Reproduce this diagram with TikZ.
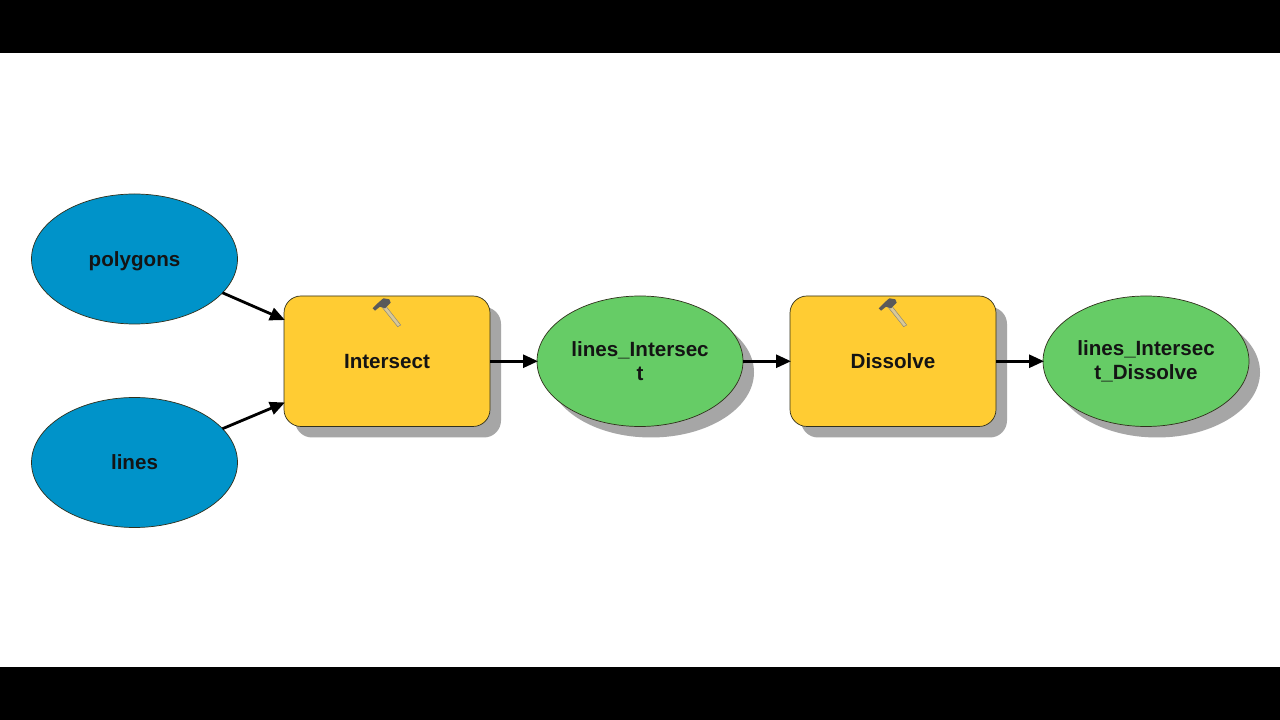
\documentclass[tikz,border=0pt]{standalone}
\usepackage{fontspec}
\setmainfont{Liberation Sans}
\usetikzlibrary{arrows.meta,shapes.geometric,shadows}
\definecolor{blueN}{HTML}{0093C9}
\definecolor{greenN}{HTML}{66CC66}
\definecolor{yellowN}{HTML}{FFCC33}
\definecolor{shadowN}{HTML}{A6A6A6}
\definecolor{edgeN}{HTML}{30301C}
\definecolor{handleN}{HTML}{D8C89A}
\definecolor{handleE}{HTML}{8E8A78}
\definecolor{headN}{HTML}{5A5A5A}
\tikzset{
  x=1pt,y=1pt,
  base/.style={draw=edgeN,line width=0.7pt,outer sep=0pt,inner sep=0pt,align=center,
    font=\fontsize{20.6}{24}\selectfont\bfseries,text=black!92},
  inputell/.style={base,ellipse,fill=blueN,minimum width=206pt,minimum height=130pt},
  outputell/.style={base,ellipse,fill=greenN,minimum width=206pt,minimum height=130.5pt,
    drop shadow={shadow xshift=11pt,shadow yshift=-11pt,fill=shadowN,opacity=1}},
  toolbox/.style={base,rectangle,rounded corners=17pt,fill=yellowN,minimum width=206pt,minimum height=130.5pt,
    drop shadow={shadow xshift=11pt,shadow yshift=-11pt,fill=shadowN,opacity=1}},
  conn/.style={line width=2.8pt,black,-{Triangle[length=15pt,width=13pt]},shorten >=-1pt},
  hammer/.pic={
    \filldraw[draw=handleE,line width=0.5pt,fill=handleN] (-4.3,-7.7) -- (-1,-6) -- (14.7,-26) -- (11.7,-27.7) -- cycle;
    \fill[headN] (-13.3,-9.3) -- (-11,-11.7) -- (-6,-7.7) -- (-1,-9.3) -- (4.7,-3.7) -- (3.3,-0.3) -- (-2.7,0.7) -- (-7.7,-3.7) -- cycle;
  }
}
\begin{document}
\begin{tikzpicture}
\useasboundingbox (0,0) rectangle (1280,720);
\fill[white] (0,0) rectangle (1280,720);
\fill[black] (0,667) rectangle (1280,720);
\fill[black] (0,0) rectangle (1280,53);
\node[inputell,text height=15pt,text depth=0pt] (polygons) at (134.5,461) {polygons};
\node[inputell] (lines) at (134.5,257.5) {lines};
\node[toolbox] (intersect) at (387,358.75) {Intersect};
\node[outputell] (out1) at (640,358.75) {lines\_Intersec\\t};
\node[toolbox] (dissolve) at (893,358.75) {Dissolve};
\node[outputell] (out2) at (1146,358.75) {lines\_Intersec\\t\_Dissolve};
\pic at ([xshift=-1pt,yshift=-3pt]intersect.north) {hammer};
\pic at ([xshift=-1pt,yshift=-3pt]dissolve.north) {hammer};
\draw[conn] (polygons.-21.4) -- (intersect.158.6);
\draw[conn] (lines.21.4) -- (intersect.-158.6);
\draw[conn] (intersect.east) -- (out1.west);
\draw[conn] (out1.east) -- (dissolve.west);
\draw[conn] (dissolve.east) -- (out2.west);
\end{tikzpicture}
\end{document}
